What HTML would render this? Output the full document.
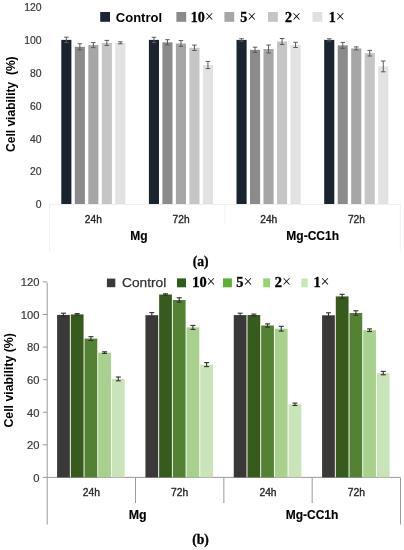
<!DOCTYPE html>
<html><head><meta charset="utf-8"><title>Cell viability</title>
<style>html,body{margin:0;padding:0;background:#fff;}svg{display:block;}</style>
</head><body>
<svg width="404" height="550" viewBox="0 0 404 550">
<rect x="0" y="0" width="404" height="550" fill="#fff"/>
<line x1="49.50" y1="204.50" x2="400.30" y2="204.50" stroke="#f0f0f0" stroke-width="1"/>
<line x1="49.50" y1="204.00" x2="49.50" y2="251.00" stroke="#eeeeee" stroke-width="1"/>
<line x1="400.30" y1="204.00" x2="400.30" y2="251.00" stroke="#eeeeee" stroke-width="1"/>
<line x1="224.90" y1="204.00" x2="224.90" y2="224.00" stroke="#f1f1f1" stroke-width="1"/>
<rect x="61.30" y="39.90" width="10.10" height="164.10" fill="#1a2330"/>
<rect x="74.80" y="46.80" width="10.10" height="157.20" fill="#8b8b8b"/>
<rect x="88.30" y="45.10" width="10.10" height="158.90" fill="#a6a6a6"/>
<rect x="101.80" y="42.90" width="10.10" height="161.10" fill="#c5c5c5"/>
<rect x="115.30" y="42.80" width="10.10" height="161.20" fill="#e2e2e2"/>
<rect x="148.90" y="39.90" width="10.10" height="164.10" fill="#1a2330"/>
<rect x="162.40" y="42.30" width="10.10" height="161.70" fill="#8b8b8b"/>
<rect x="175.90" y="43.50" width="10.10" height="160.50" fill="#a6a6a6"/>
<rect x="189.40" y="47.80" width="10.10" height="156.20" fill="#c5c5c5"/>
<rect x="202.90" y="65.00" width="10.10" height="139.00" fill="#e2e2e2"/>
<rect x="236.50" y="39.90" width="10.10" height="164.10" fill="#1a2330"/>
<rect x="250.00" y="49.80" width="10.10" height="154.20" fill="#8b8b8b"/>
<rect x="263.50" y="49.00" width="10.10" height="155.00" fill="#a6a6a6"/>
<rect x="277.00" y="41.50" width="10.10" height="162.50" fill="#c5c5c5"/>
<rect x="290.50" y="44.90" width="10.10" height="159.10" fill="#e2e2e2"/>
<rect x="324.20" y="39.90" width="10.10" height="164.10" fill="#1a2330"/>
<rect x="337.70" y="45.40" width="10.10" height="158.60" fill="#8b8b8b"/>
<rect x="351.20" y="48.40" width="10.10" height="155.60" fill="#a6a6a6"/>
<rect x="364.70" y="53.20" width="10.10" height="150.80" fill="#c5c5c5"/>
<rect x="378.20" y="66.40" width="10.10" height="137.60" fill="#e2e2e2"/>
<line x1="66.35" y1="37.20" x2="66.35" y2="42.60" stroke="#5a5a5a" stroke-width="1"/>
<line x1="64.10" y1="37.20" x2="68.60" y2="37.20" stroke="#5a5a5a" stroke-width="1"/>
<line x1="64.10" y1="42.60" x2="68.60" y2="42.60" stroke="#5a5a5a" stroke-width="1"/>
<line x1="79.85" y1="43.80" x2="79.85" y2="49.80" stroke="#5a5a5a" stroke-width="1"/>
<line x1="77.60" y1="43.80" x2="82.10" y2="43.80" stroke="#5a5a5a" stroke-width="1"/>
<line x1="77.60" y1="49.80" x2="82.10" y2="49.80" stroke="#5a5a5a" stroke-width="1"/>
<line x1="93.35" y1="42.60" x2="93.35" y2="47.60" stroke="#5a5a5a" stroke-width="1"/>
<line x1="91.10" y1="42.60" x2="95.60" y2="42.60" stroke="#5a5a5a" stroke-width="1"/>
<line x1="91.10" y1="47.60" x2="95.60" y2="47.60" stroke="#5a5a5a" stroke-width="1"/>
<line x1="106.85" y1="40.40" x2="106.85" y2="45.40" stroke="#5a5a5a" stroke-width="1"/>
<line x1="104.60" y1="40.40" x2="109.10" y2="40.40" stroke="#5a5a5a" stroke-width="1"/>
<line x1="104.60" y1="45.40" x2="109.10" y2="45.40" stroke="#5a5a5a" stroke-width="1"/>
<line x1="120.35" y1="41.80" x2="120.35" y2="43.80" stroke="#5a5a5a" stroke-width="1"/>
<line x1="118.10" y1="41.80" x2="122.60" y2="41.80" stroke="#5a5a5a" stroke-width="1"/>
<line x1="118.10" y1="43.80" x2="122.60" y2="43.80" stroke="#5a5a5a" stroke-width="1"/>
<line x1="153.95" y1="37.30" x2="153.95" y2="42.50" stroke="#5a5a5a" stroke-width="1"/>
<line x1="151.70" y1="37.30" x2="156.20" y2="37.30" stroke="#5a5a5a" stroke-width="1"/>
<line x1="151.70" y1="42.50" x2="156.20" y2="42.50" stroke="#5a5a5a" stroke-width="1"/>
<line x1="167.45" y1="39.70" x2="167.45" y2="44.90" stroke="#5a5a5a" stroke-width="1"/>
<line x1="165.20" y1="39.70" x2="169.70" y2="39.70" stroke="#5a5a5a" stroke-width="1"/>
<line x1="165.20" y1="44.90" x2="169.70" y2="44.90" stroke="#5a5a5a" stroke-width="1"/>
<line x1="180.95" y1="40.60" x2="180.95" y2="46.40" stroke="#5a5a5a" stroke-width="1"/>
<line x1="178.70" y1="40.60" x2="183.20" y2="40.60" stroke="#5a5a5a" stroke-width="1"/>
<line x1="178.70" y1="46.40" x2="183.20" y2="46.40" stroke="#5a5a5a" stroke-width="1"/>
<line x1="194.45" y1="45.10" x2="194.45" y2="50.50" stroke="#5a5a5a" stroke-width="1"/>
<line x1="192.20" y1="45.10" x2="196.70" y2="45.10" stroke="#5a5a5a" stroke-width="1"/>
<line x1="192.20" y1="50.50" x2="196.70" y2="50.50" stroke="#5a5a5a" stroke-width="1"/>
<line x1="207.95" y1="61.40" x2="207.95" y2="68.60" stroke="#5a5a5a" stroke-width="1"/>
<line x1="205.70" y1="61.40" x2="210.20" y2="61.40" stroke="#5a5a5a" stroke-width="1"/>
<line x1="205.70" y1="68.60" x2="210.20" y2="68.60" stroke="#5a5a5a" stroke-width="1"/>
<line x1="241.55" y1="38.70" x2="241.55" y2="41.10" stroke="#5a5a5a" stroke-width="1"/>
<line x1="239.30" y1="38.70" x2="243.80" y2="38.70" stroke="#5a5a5a" stroke-width="1"/>
<line x1="239.30" y1="41.10" x2="243.80" y2="41.10" stroke="#5a5a5a" stroke-width="1"/>
<line x1="255.05" y1="47.20" x2="255.05" y2="52.40" stroke="#5a5a5a" stroke-width="1"/>
<line x1="252.80" y1="47.20" x2="257.30" y2="47.20" stroke="#5a5a5a" stroke-width="1"/>
<line x1="252.80" y1="52.40" x2="257.30" y2="52.40" stroke="#5a5a5a" stroke-width="1"/>
<line x1="268.55" y1="45.00" x2="268.55" y2="53.00" stroke="#5a5a5a" stroke-width="1"/>
<line x1="266.30" y1="45.00" x2="270.80" y2="45.00" stroke="#5a5a5a" stroke-width="1"/>
<line x1="266.30" y1="53.00" x2="270.80" y2="53.00" stroke="#5a5a5a" stroke-width="1"/>
<line x1="282.05" y1="38.50" x2="282.05" y2="44.50" stroke="#5a5a5a" stroke-width="1"/>
<line x1="279.80" y1="38.50" x2="284.30" y2="38.50" stroke="#5a5a5a" stroke-width="1"/>
<line x1="279.80" y1="44.50" x2="284.30" y2="44.50" stroke="#5a5a5a" stroke-width="1"/>
<line x1="295.55" y1="42.30" x2="295.55" y2="47.50" stroke="#5a5a5a" stroke-width="1"/>
<line x1="293.30" y1="42.30" x2="297.80" y2="42.30" stroke="#5a5a5a" stroke-width="1"/>
<line x1="293.30" y1="47.50" x2="297.80" y2="47.50" stroke="#5a5a5a" stroke-width="1"/>
<line x1="329.25" y1="38.80" x2="329.25" y2="41.00" stroke="#5a5a5a" stroke-width="1"/>
<line x1="327.00" y1="38.80" x2="331.50" y2="38.80" stroke="#5a5a5a" stroke-width="1"/>
<line x1="327.00" y1="41.00" x2="331.50" y2="41.00" stroke="#5a5a5a" stroke-width="1"/>
<line x1="342.75" y1="42.40" x2="342.75" y2="48.40" stroke="#5a5a5a" stroke-width="1"/>
<line x1="340.50" y1="42.40" x2="345.00" y2="42.40" stroke="#5a5a5a" stroke-width="1"/>
<line x1="340.50" y1="48.40" x2="345.00" y2="48.40" stroke="#5a5a5a" stroke-width="1"/>
<line x1="356.25" y1="46.90" x2="356.25" y2="49.90" stroke="#5a5a5a" stroke-width="1"/>
<line x1="354.00" y1="46.90" x2="358.50" y2="46.90" stroke="#5a5a5a" stroke-width="1"/>
<line x1="354.00" y1="49.90" x2="358.50" y2="49.90" stroke="#5a5a5a" stroke-width="1"/>
<line x1="369.75" y1="50.40" x2="369.75" y2="56.00" stroke="#5a5a5a" stroke-width="1"/>
<line x1="367.50" y1="50.40" x2="372.00" y2="50.40" stroke="#5a5a5a" stroke-width="1"/>
<line x1="367.50" y1="56.00" x2="372.00" y2="56.00" stroke="#5a5a5a" stroke-width="1"/>
<line x1="383.25" y1="61.00" x2="383.25" y2="71.80" stroke="#5a5a5a" stroke-width="1"/>
<line x1="381.00" y1="61.00" x2="385.50" y2="61.00" stroke="#5a5a5a" stroke-width="1"/>
<line x1="381.00" y1="71.80" x2="385.50" y2="71.80" stroke="#5a5a5a" stroke-width="1"/>
<text x="41.60" y="208.20" font-family="'Liberation Sans', Arial, sans-serif" font-size="10.4" font-weight="normal" fill="#383838" text-anchor="end" stroke="#383838" stroke-width="0.2" >0</text>
<text x="41.60" y="175.40" font-family="'Liberation Sans', Arial, sans-serif" font-size="10.4" font-weight="normal" fill="#383838" text-anchor="end" stroke="#383838" stroke-width="0.2" >20</text>
<text x="41.60" y="142.60" font-family="'Liberation Sans', Arial, sans-serif" font-size="10.4" font-weight="normal" fill="#383838" text-anchor="end" stroke="#383838" stroke-width="0.2" >40</text>
<text x="41.60" y="109.80" font-family="'Liberation Sans', Arial, sans-serif" font-size="10.4" font-weight="normal" fill="#383838" text-anchor="end" stroke="#383838" stroke-width="0.2" >60</text>
<text x="41.60" y="77.00" font-family="'Liberation Sans', Arial, sans-serif" font-size="10.4" font-weight="normal" fill="#383838" text-anchor="end" stroke="#383838" stroke-width="0.2" >80</text>
<text x="41.60" y="44.20" font-family="'Liberation Sans', Arial, sans-serif" font-size="10.4" font-weight="normal" fill="#383838" text-anchor="end" stroke="#383838" stroke-width="0.2" >100</text>
<text x="41.60" y="11.40" font-family="'Liberation Sans', Arial, sans-serif" font-size="10.4" font-weight="normal" fill="#383838" text-anchor="end" stroke="#383838" stroke-width="0.2" >120</text>
<text transform="translate(15.3,152.0) rotate(-90)" font-family="'Liberation Sans', Arial, sans-serif" font-size="11.9" textLength="95.6" lengthAdjust="spacingAndGlyphs" font-weight="bold" fill="#000" xml:space="preserve">Cell viability  (%)</text>
<text x="93.35" y="223.40" font-family="'Liberation Sans', Arial, sans-serif" font-size="10.2" font-weight="normal" fill="#262626" text-anchor="middle" stroke="#262626" stroke-width="0.35" >24h</text>
<text x="181.05" y="223.40" font-family="'Liberation Sans', Arial, sans-serif" font-size="10.2" font-weight="normal" fill="#262626" text-anchor="middle" stroke="#262626" stroke-width="0.35" >72h</text>
<text x="268.75" y="223.40" font-family="'Liberation Sans', Arial, sans-serif" font-size="10.2" font-weight="normal" fill="#262626" text-anchor="middle" stroke="#262626" stroke-width="0.35" >24h</text>
<text x="356.45" y="223.40" font-family="'Liberation Sans', Arial, sans-serif" font-size="10.2" font-weight="normal" fill="#262626" text-anchor="middle" stroke="#262626" stroke-width="0.35" >72h</text>
<text x="139.00" y="240.00" font-family="'Liberation Sans', Arial, sans-serif" font-size="12" font-weight="bold" fill="#000" text-anchor="middle" stroke="#000" stroke-width="0.15" >Mg</text>
<text x="312.70" y="240.00" font-family="'Liberation Sans', Arial, sans-serif" font-size="12" font-weight="bold" fill="#000" text-anchor="middle" stroke="#000" stroke-width="0.15" >Mg-CC1h</text>
<text x="200.70" y="266.30" font-family="'Liberation Serif', 'Times New Roman', serif" font-size="13.6" font-weight="bold" fill="#000" text-anchor="middle" stroke="#000" stroke-width="0.3" >(a)</text>
<rect x="100.20" y="12.00" width="9.80" height="9.80" fill="#1c2535"/>
<text x="115.80" y="21.80" font-family="'Liberation Sans', Arial, sans-serif" font-size="13" font-weight="bold" fill="#000" text-anchor="start" >Control</text>
<rect x="176.40" y="12.00" width="9.80" height="9.80" fill="#8a8a8a"/>
<text x="190.80" y="21.80" font-family="'Liberation Serif', 'Times New Roman', serif" font-size="14" font-weight="bold" fill="#000" text-anchor="start" stroke="#000" stroke-width="0.35" >10<tspan stroke-width="0" font-weight="normal" font-size="16">×</tspan></text>
<rect x="224.40" y="12.00" width="9.80" height="9.80" fill="#a6a6a6"/>
<text x="240.30" y="21.80" font-family="'Liberation Serif', 'Times New Roman', serif" font-size="14" font-weight="bold" fill="#000" text-anchor="start" stroke="#000" stroke-width="0.35" >5<tspan stroke-width="0" font-weight="normal" font-size="16">×</tspan></text>
<rect x="268.00" y="12.00" width="9.80" height="9.80" fill="#c5c5c5"/>
<text x="285.00" y="21.80" font-family="'Liberation Serif', 'Times New Roman', serif" font-size="14" font-weight="bold" fill="#000" text-anchor="start" stroke="#000" stroke-width="0.35" >2<tspan stroke-width="0" font-weight="normal" font-size="16">×</tspan></text>
<rect x="312.50" y="12.00" width="9.80" height="9.80" fill="#e0e0e0"/>
<text x="328.70" y="21.80" font-family="'Liberation Serif', 'Times New Roman', serif" font-size="14" font-weight="bold" fill="#000" text-anchor="start" stroke="#000" stroke-width="0.35" >1<tspan stroke-width="0" font-weight="normal" font-size="16">×</tspan></text>
<line x1="47.20" y1="282.60" x2="47.20" y2="524.50" stroke="#9a9a9a" stroke-width="1"/>
<line x1="47.20" y1="477.40" x2="400.50" y2="477.40" stroke="#9a9a9a" stroke-width="1"/>
<line x1="42.80" y1="477.40" x2="47.20" y2="477.40" stroke="#9a9a9a" stroke-width="1"/>
<text x="39.40" y="481.80" font-family="'Liberation Sans', Arial, sans-serif" font-size="11.2" font-weight="normal" fill="#383838" text-anchor="end" stroke="#383838" stroke-width="0.2" >0</text>
<line x1="42.80" y1="444.82" x2="47.20" y2="444.82" stroke="#9a9a9a" stroke-width="1"/>
<text x="39.40" y="449.22" font-family="'Liberation Sans', Arial, sans-serif" font-size="11.2" font-weight="normal" fill="#383838" text-anchor="end" stroke="#383838" stroke-width="0.2" >20</text>
<line x1="42.80" y1="412.24" x2="47.20" y2="412.24" stroke="#9a9a9a" stroke-width="1"/>
<text x="39.40" y="416.64" font-family="'Liberation Sans', Arial, sans-serif" font-size="11.2" font-weight="normal" fill="#383838" text-anchor="end" stroke="#383838" stroke-width="0.2" >40</text>
<line x1="42.80" y1="379.66" x2="47.20" y2="379.66" stroke="#9a9a9a" stroke-width="1"/>
<text x="39.40" y="384.06" font-family="'Liberation Sans', Arial, sans-serif" font-size="11.2" font-weight="normal" fill="#383838" text-anchor="end" stroke="#383838" stroke-width="0.2" >60</text>
<line x1="42.80" y1="347.08" x2="47.20" y2="347.08" stroke="#9a9a9a" stroke-width="1"/>
<text x="39.40" y="351.48" font-family="'Liberation Sans', Arial, sans-serif" font-size="11.2" font-weight="normal" fill="#383838" text-anchor="end" stroke="#383838" stroke-width="0.2" >80</text>
<line x1="42.80" y1="314.50" x2="47.20" y2="314.50" stroke="#9a9a9a" stroke-width="1"/>
<text x="39.40" y="318.90" font-family="'Liberation Sans', Arial, sans-serif" font-size="11.2" font-weight="normal" fill="#383838" text-anchor="end" stroke="#383838" stroke-width="0.2" >100</text>
<line x1="42.80" y1="281.92" x2="47.20" y2="281.92" stroke="#9a9a9a" stroke-width="1"/>
<text x="39.40" y="286.32" font-family="'Liberation Sans', Arial, sans-serif" font-size="11.2" font-weight="normal" fill="#383838" text-anchor="end" stroke="#383838" stroke-width="0.2" >120</text>
<line x1="135.53" y1="477.40" x2="135.53" y2="503.00" stroke="#9a9a9a" stroke-width="1"/>
<line x1="223.85" y1="477.40" x2="223.85" y2="503.00" stroke="#9a9a9a" stroke-width="1"/>
<line x1="312.18" y1="477.40" x2="312.18" y2="503.00" stroke="#9a9a9a" stroke-width="1"/>
<line x1="400.50" y1="477.40" x2="400.50" y2="524.50" stroke="#9a9a9a" stroke-width="1"/>
<rect x="57.11" y="314.90" width="12.75" height="162.50" fill="#3b3838"/>
<rect x="70.81" y="314.40" width="12.75" height="163.00" fill="#375a1d"/>
<rect x="84.51" y="338.60" width="12.75" height="138.80" fill="#548233"/>
<rect x="98.21" y="352.60" width="12.75" height="124.80" fill="#a9d18e"/>
<rect x="111.91" y="378.90" width="12.75" height="98.50" fill="#c9e4b8"/>
<rect x="145.44" y="315.20" width="12.75" height="162.20" fill="#3b3838"/>
<rect x="159.14" y="294.50" width="12.75" height="182.90" fill="#375a1d"/>
<rect x="172.84" y="300.00" width="12.75" height="177.40" fill="#548233"/>
<rect x="186.54" y="327.40" width="12.75" height="150.00" fill="#a9d18e"/>
<rect x="200.24" y="364.60" width="12.75" height="112.80" fill="#c9e4b8"/>
<rect x="233.76" y="315.10" width="12.75" height="162.30" fill="#3b3838"/>
<rect x="247.46" y="315.00" width="12.75" height="162.40" fill="#375a1d"/>
<rect x="261.16" y="325.50" width="12.75" height="151.90" fill="#548233"/>
<rect x="274.86" y="328.70" width="12.75" height="148.70" fill="#a9d18e"/>
<rect x="288.56" y="404.30" width="12.75" height="73.10" fill="#c9e4b8"/>
<rect x="322.09" y="315.30" width="12.75" height="162.10" fill="#3b3838"/>
<rect x="335.79" y="296.40" width="12.75" height="181.00" fill="#375a1d"/>
<rect x="349.49" y="313.00" width="12.75" height="164.40" fill="#548233"/>
<rect x="363.19" y="330.20" width="12.75" height="147.20" fill="#a9d18e"/>
<rect x="376.89" y="373.10" width="12.75" height="104.30" fill="#c9e4b8"/>
<line x1="63.49" y1="313.20" x2="63.49" y2="316.60" stroke="#303030" stroke-width="1.1"/>
<line x1="60.99" y1="313.20" x2="65.99" y2="313.20" stroke="#303030" stroke-width="1.1"/>
<line x1="60.99" y1="316.60" x2="65.99" y2="316.60" stroke="#303030" stroke-width="1.1"/>
<line x1="77.19" y1="313.60" x2="77.19" y2="315.20" stroke="#303030" stroke-width="1.1"/>
<line x1="74.69" y1="313.60" x2="79.69" y2="313.60" stroke="#303030" stroke-width="1.1"/>
<line x1="74.69" y1="315.20" x2="79.69" y2="315.20" stroke="#303030" stroke-width="1.1"/>
<line x1="90.89" y1="336.70" x2="90.89" y2="340.50" stroke="#303030" stroke-width="1.1"/>
<line x1="88.39" y1="336.70" x2="93.39" y2="336.70" stroke="#303030" stroke-width="1.1"/>
<line x1="88.39" y1="340.50" x2="93.39" y2="340.50" stroke="#303030" stroke-width="1.1"/>
<line x1="104.59" y1="351.80" x2="104.59" y2="353.40" stroke="#303030" stroke-width="1.1"/>
<line x1="102.09" y1="351.80" x2="107.09" y2="351.80" stroke="#303030" stroke-width="1.1"/>
<line x1="102.09" y1="353.40" x2="107.09" y2="353.40" stroke="#303030" stroke-width="1.1"/>
<line x1="118.29" y1="377.00" x2="118.29" y2="380.80" stroke="#303030" stroke-width="1.1"/>
<line x1="115.79" y1="377.00" x2="120.79" y2="377.00" stroke="#303030" stroke-width="1.1"/>
<line x1="115.79" y1="380.80" x2="120.79" y2="380.80" stroke="#303030" stroke-width="1.1"/>
<line x1="151.81" y1="312.60" x2="151.81" y2="317.80" stroke="#303030" stroke-width="1.1"/>
<line x1="149.31" y1="312.60" x2="154.31" y2="312.60" stroke="#303030" stroke-width="1.1"/>
<line x1="149.31" y1="317.80" x2="154.31" y2="317.80" stroke="#303030" stroke-width="1.1"/>
<line x1="165.51" y1="293.80" x2="165.51" y2="295.20" stroke="#303030" stroke-width="1.1"/>
<line x1="163.01" y1="293.80" x2="168.01" y2="293.80" stroke="#303030" stroke-width="1.1"/>
<line x1="163.01" y1="295.20" x2="168.01" y2="295.20" stroke="#303030" stroke-width="1.1"/>
<line x1="179.21" y1="297.80" x2="179.21" y2="302.20" stroke="#303030" stroke-width="1.1"/>
<line x1="176.71" y1="297.80" x2="181.71" y2="297.80" stroke="#303030" stroke-width="1.1"/>
<line x1="176.71" y1="302.20" x2="181.71" y2="302.20" stroke="#303030" stroke-width="1.1"/>
<line x1="192.91" y1="325.40" x2="192.91" y2="329.40" stroke="#303030" stroke-width="1.1"/>
<line x1="190.41" y1="325.40" x2="195.41" y2="325.40" stroke="#303030" stroke-width="1.1"/>
<line x1="190.41" y1="329.40" x2="195.41" y2="329.40" stroke="#303030" stroke-width="1.1"/>
<line x1="206.61" y1="362.60" x2="206.61" y2="366.60" stroke="#303030" stroke-width="1.1"/>
<line x1="204.11" y1="362.60" x2="209.11" y2="362.60" stroke="#303030" stroke-width="1.1"/>
<line x1="204.11" y1="366.60" x2="209.11" y2="366.60" stroke="#303030" stroke-width="1.1"/>
<line x1="240.14" y1="313.20" x2="240.14" y2="317.00" stroke="#303030" stroke-width="1.1"/>
<line x1="237.64" y1="313.20" x2="242.64" y2="313.20" stroke="#303030" stroke-width="1.1"/>
<line x1="237.64" y1="317.00" x2="242.64" y2="317.00" stroke="#303030" stroke-width="1.1"/>
<line x1="253.84" y1="314.10" x2="253.84" y2="315.90" stroke="#303030" stroke-width="1.1"/>
<line x1="251.34" y1="314.10" x2="256.34" y2="314.10" stroke="#303030" stroke-width="1.1"/>
<line x1="251.34" y1="315.90" x2="256.34" y2="315.90" stroke="#303030" stroke-width="1.1"/>
<line x1="267.54" y1="323.90" x2="267.54" y2="327.10" stroke="#303030" stroke-width="1.1"/>
<line x1="265.04" y1="323.90" x2="270.04" y2="323.90" stroke="#303030" stroke-width="1.1"/>
<line x1="265.04" y1="327.10" x2="270.04" y2="327.10" stroke="#303030" stroke-width="1.1"/>
<line x1="281.24" y1="326.30" x2="281.24" y2="331.10" stroke="#303030" stroke-width="1.1"/>
<line x1="278.74" y1="326.30" x2="283.74" y2="326.30" stroke="#303030" stroke-width="1.1"/>
<line x1="278.74" y1="331.10" x2="283.74" y2="331.10" stroke="#303030" stroke-width="1.1"/>
<line x1="294.94" y1="403.10" x2="294.94" y2="405.50" stroke="#303030" stroke-width="1.1"/>
<line x1="292.44" y1="403.10" x2="297.44" y2="403.10" stroke="#303030" stroke-width="1.1"/>
<line x1="292.44" y1="405.50" x2="297.44" y2="405.50" stroke="#303030" stroke-width="1.1"/>
<line x1="328.46" y1="312.80" x2="328.46" y2="317.80" stroke="#303030" stroke-width="1.1"/>
<line x1="325.96" y1="312.80" x2="330.96" y2="312.80" stroke="#303030" stroke-width="1.1"/>
<line x1="325.96" y1="317.80" x2="330.96" y2="317.80" stroke="#303030" stroke-width="1.1"/>
<line x1="342.16" y1="294.30" x2="342.16" y2="298.50" stroke="#303030" stroke-width="1.1"/>
<line x1="339.66" y1="294.30" x2="344.66" y2="294.30" stroke="#303030" stroke-width="1.1"/>
<line x1="339.66" y1="298.50" x2="344.66" y2="298.50" stroke="#303030" stroke-width="1.1"/>
<line x1="355.86" y1="310.80" x2="355.86" y2="315.20" stroke="#303030" stroke-width="1.1"/>
<line x1="353.36" y1="310.80" x2="358.36" y2="310.80" stroke="#303030" stroke-width="1.1"/>
<line x1="353.36" y1="315.20" x2="358.36" y2="315.20" stroke="#303030" stroke-width="1.1"/>
<line x1="369.56" y1="328.90" x2="369.56" y2="331.50" stroke="#303030" stroke-width="1.1"/>
<line x1="367.06" y1="328.90" x2="372.06" y2="328.90" stroke="#303030" stroke-width="1.1"/>
<line x1="367.06" y1="331.50" x2="372.06" y2="331.50" stroke="#303030" stroke-width="1.1"/>
<line x1="383.26" y1="371.40" x2="383.26" y2="374.80" stroke="#303030" stroke-width="1.1"/>
<line x1="380.76" y1="371.40" x2="385.76" y2="371.40" stroke="#303030" stroke-width="1.1"/>
<line x1="380.76" y1="374.80" x2="385.76" y2="374.80" stroke="#303030" stroke-width="1.1"/>
<text transform="translate(12.6,427.6) rotate(-90)" font-family="'Liberation Sans', Arial, sans-serif" font-size="12.2" textLength="94.5" lengthAdjust="spacingAndGlyphs" font-weight="bold" fill="#000">Cell viability (%)</text>
<text x="91.36" y="495.80" font-family="'Liberation Sans', Arial, sans-serif" font-size="10.3" font-weight="normal" fill="#262626" text-anchor="middle" stroke="#262626" stroke-width="0.35" >24h</text>
<text x="179.69" y="495.80" font-family="'Liberation Sans', Arial, sans-serif" font-size="10.3" font-weight="normal" fill="#262626" text-anchor="middle" stroke="#262626" stroke-width="0.35" >72h</text>
<text x="268.01" y="495.80" font-family="'Liberation Sans', Arial, sans-serif" font-size="10.3" font-weight="normal" fill="#262626" text-anchor="middle" stroke="#262626" stroke-width="0.35" >24h</text>
<text x="356.34" y="495.80" font-family="'Liberation Sans', Arial, sans-serif" font-size="10.3" font-weight="normal" fill="#262626" text-anchor="middle" stroke="#262626" stroke-width="0.35" >72h</text>
<text x="137.70" y="518.80" font-family="'Liberation Sans', Arial, sans-serif" font-size="12.4" font-weight="bold" fill="#000" text-anchor="middle" stroke="#000" stroke-width="0.15" >Mg</text>
<text x="312.00" y="518.80" font-family="'Liberation Sans', Arial, sans-serif" font-size="12" font-weight="bold" fill="#000" text-anchor="middle" stroke="#000" stroke-width="0.15" >Mg-CC1h</text>
<text x="200.60" y="544.30" font-family="'Liberation Serif', 'Times New Roman', serif" font-size="13.6" font-weight="bold" fill="#000" text-anchor="middle" stroke="#000" stroke-width="0.3" >(b)</text>
<rect x="106.90" y="278.60" width="8.40" height="8.60" fill="#3b3838"/>
<text x="122.00" y="287.40" font-family="'Liberation Sans', Arial, sans-serif" font-size="12.8" font-weight="normal" fill="#333333" text-anchor="start" stroke="#333333" stroke-width="0.25" textLength="44.2" lengthAdjust="spacingAndGlyphs">Control</text>
<rect x="177.00" y="278.40" width="9.00" height="8.90" fill="#2d5e17"/>
<text x="192.20" y="287.40" font-family="'Liberation Serif', 'Times New Roman', serif" font-size="14.4" font-weight="bold" fill="#000" text-anchor="start" stroke="#000" stroke-width="0.35" >10<tspan stroke-width="0" font-weight="normal" font-size="16">×</tspan></text>
<rect x="223.00" y="278.40" width="8.90" height="8.90" fill="#5daf34"/>
<text x="236.30" y="287.40" font-family="'Liberation Serif', 'Times New Roman', serif" font-size="14.4" font-weight="bold" fill="#000" text-anchor="start" stroke="#000" stroke-width="0.35" >5<tspan stroke-width="0" font-weight="normal" font-size="16">×</tspan></text>
<rect x="263.20" y="278.40" width="6.80" height="8.90" fill="#97d46f"/>
<text x="274.80" y="287.40" font-family="'Liberation Serif', 'Times New Roman', serif" font-size="14.4" font-weight="bold" fill="#000" text-anchor="start" stroke="#000" stroke-width="0.35" >2<tspan stroke-width="0" font-weight="normal" font-size="16">×</tspan></text>
<rect x="301.40" y="278.40" width="6.30" height="8.90" fill="#c6e8b4"/>
<text x="313.40" y="287.40" font-family="'Liberation Serif', 'Times New Roman', serif" font-size="14.4" font-weight="bold" fill="#000" text-anchor="start" stroke="#000" stroke-width="0.35" >1<tspan stroke-width="0" font-weight="normal" font-size="16">×</tspan></text>
</svg>
</body></html>
